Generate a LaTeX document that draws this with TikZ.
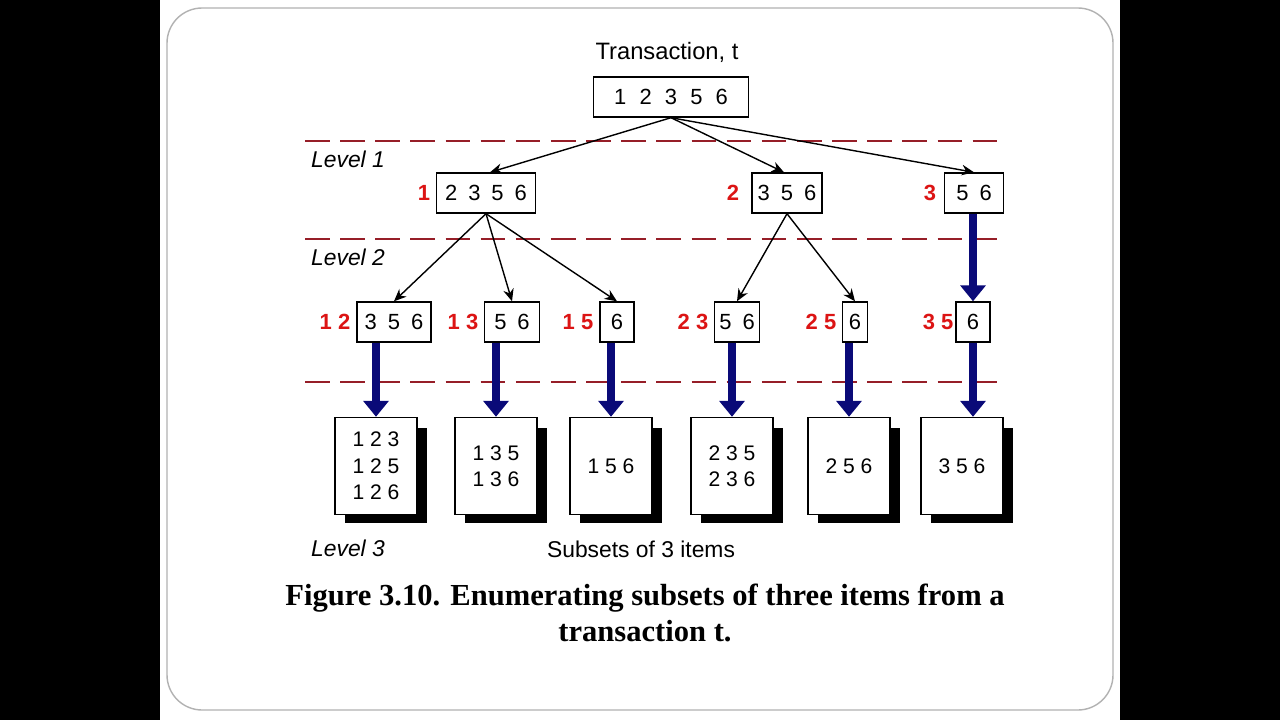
\documentclass[tikz,border=0pt]{standalone}
\usepackage{fontspec}
\setmainfont{Liberation Sans}
\newfontfamily\capfont{Liberation Serif}
\usetikzlibrary{calc}
\usetikzlibrary{arrows.meta}
\definecolor{levelred}{RGB}{150,30,40}
\definecolor{navyarrow}{RGB}{10,10,120}
\definecolor{itemred}{RGB}{220,20,20}
\tikzset{
  box/.style={draw,thick,fill=white,minimum height=40*0.02cm,inner sep=0pt,font=\fontsize{12.5}{14}\selectfont},
  leaf/.style={draw,thick,fill=white,minimum width=82*0.02cm,minimum height=97*0.02cm,inner sep=0pt,align=center,
    font=\fontsize{12}{15}\selectfont},
  pre/.style={text=itemred,font=\fontsize{12.5}{14}\selectfont\bfseries},
  lvl/.style={font=\fontsize{13}{15}\selectfont\itshape},
  sep/.style={levelred,thick,dash pattern=on 14pt off 6pt},
  thin/.style={-{Stealth[length=7pt,width=6pt]},thick},
  fat/.style={navyarrow,line width=4.5pt,-{Triangle[length=9pt,width=14pt]}}
}
\begin{document}
\begin{tikzpicture}[x=0.02cm,y=-0.02cm]
\fill[black] (0,0) rectangle (1280,720);
\fill[white] (160,0) rectangle (1120,720);
\draw[gray!60,thick,rounded corners=20] (167,8) rectangle (1113,710);
% separators
\foreach \y in {141,239,382}
  \draw[sep] (305,\y) -- (1007,\y);
\foreach \y/\n in {159/1,257/2,548/3}
  \node[lvl,anchor=west] at (305,\y) {Level \n};
% root
\node[font=\fontsize{13.5}{15}\selectfont] (title) at (667,52) {Transaction, t};
\node[box,minimum width=155*0.02cm] (root) at (671,97) {1\hspace{0.6em}2\hspace{0.6em}3\hspace{0.6em}5\hspace{0.6em}6};
% level 1
\node[box,minimum width=99*0.02cm] (a) at (486,193) {2\hspace{0.5em}3\hspace{0.5em}5\hspace{0.5em}6};
\node[box,minimum width=70*0.02cm] (b) at (787,193) {3\hspace{0.5em}5\hspace{0.5em}6};
\node[box,minimum width=59*0.02cm] (c) at (974,193) {5\hspace{0.5em}6};
\node[pre] at (424,193) {1};
\node[pre] at (733,193) {2};
\node[pre] at (930,193) {3};
% level 2
\foreach \n/\x/\w/\t/\p/\px in {aa/394/74/{3\hspace{0.5em}5\hspace{0.5em}6}/{1 2}/335,
  ab/512/55/{5\hspace{0.5em}6}/{1 3}/463, ac/617/34/6/{1 5}/578,
  ba/737/45/{5\hspace{0.5em}6}/{2 3}/693, bb/855/25/6/{2 5}/821, ca/973/34/6/{3 5}/938}
{
  \node[box,minimum width=\w*0.02cm] (\n) at (\x,322) {\t};
  \node[pre] at (\px,322) {\p};
}
% leaves with shadows
\foreach \n/\x/\t in {la/376/{1 2 3\\1 2 5\\1 2 6}, lb/496/{1 3 5\\1 3 6}, lc/611/{1 5 6},
  ld/732/{2 3 5\\2 3 6}, le/849/{2 5 6}, lf/962/{3 5 6}}
{
  \fill[black] (\x-31,428) rectangle (\x+51,523);
  \node[leaf] (\n) at (\x,466) {\t};
}
% arrows
\draw[thin] (root.south) -- ($(a.north)+(4,0)$);
\draw[thin] (root.south) -- ($(b.north)+(-3,0)$);
\draw[thin] (root.south) -- (c.north);
\draw[thin] (a.south) -- (aa.north);
\draw[thin] (a.south) -- (ab.north);
\draw[thin] (a.south) -- (ac.north);
\draw[thin] (b.south) -- (ba.north);
\draw[thin] (b.south) -- (bb.north);
\draw[fat] (ca.north |- c.south) -- (ca.north);
\foreach \s/\t in {aa/la,ab/lb,ac/lc,ba/ld,bb/le}
  \draw[fat] (\t.north |- \s.south) -- (\t.north);
\draw[fat] (ca.south) -- (ca.south |- lf.north);
\node[font=\fontsize{13}{15}\selectfont] (sub) at (641,549) {Subsets of 3 items};
\node[font=\capfont\fontsize{17.4}{20}\selectfont\bfseries,align=center] (cap) at (645,613)
  {Figure 3.10. Enumerating subsets of three items from a\\transaction t.};
\end{tikzpicture}
\end{document}
